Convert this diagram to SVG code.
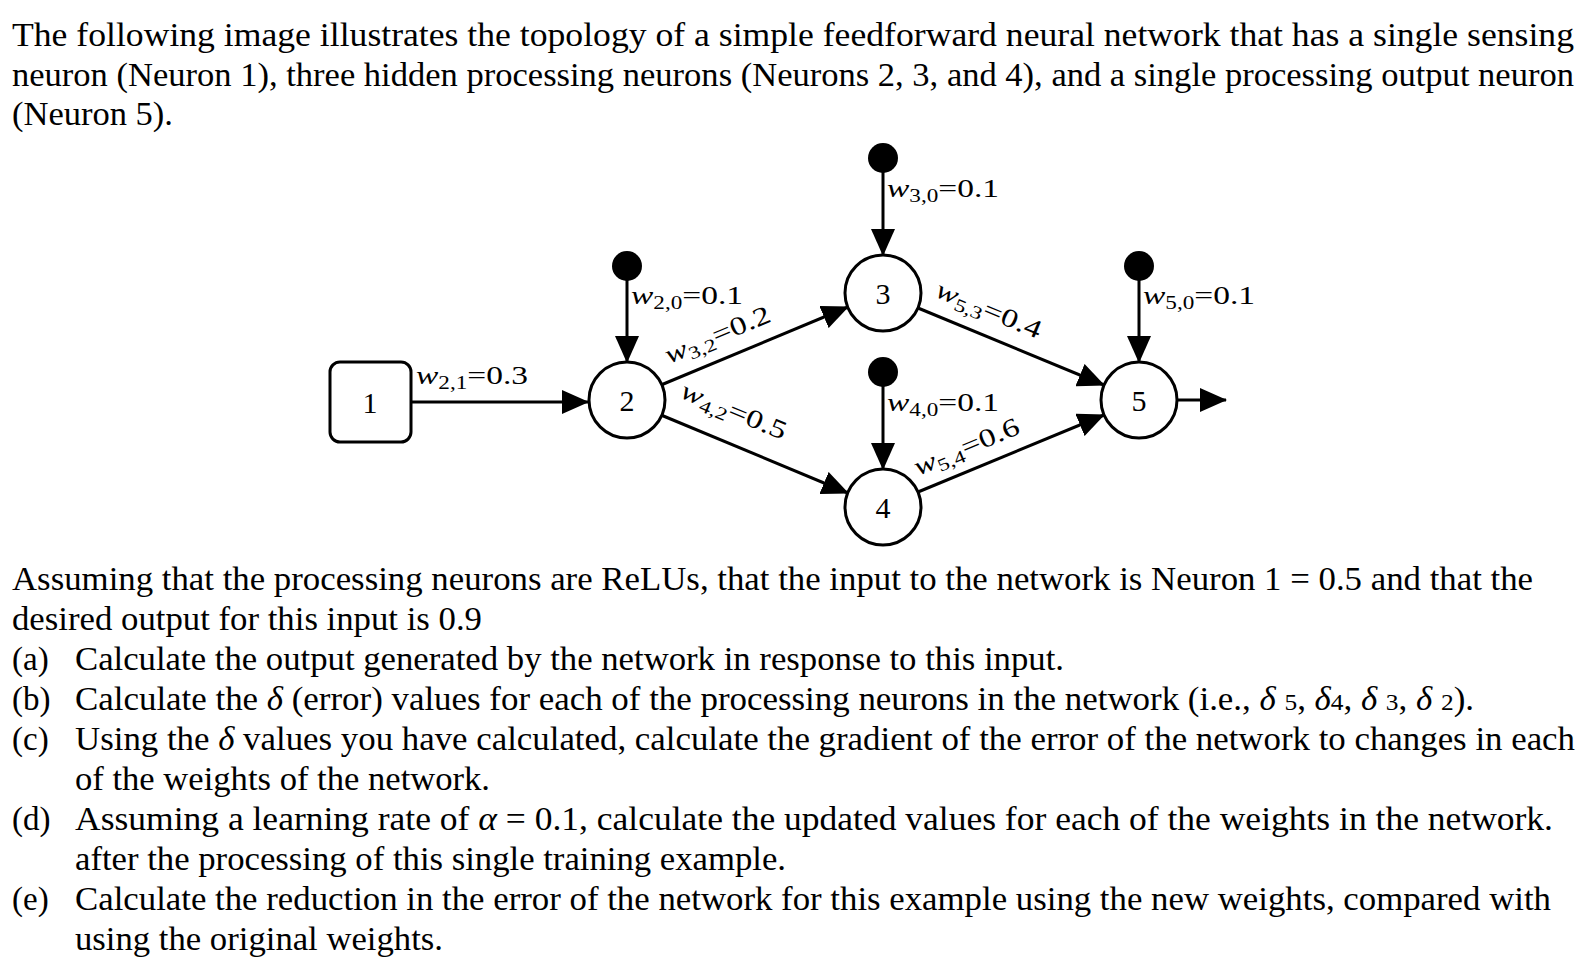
<svg xmlns="http://www.w3.org/2000/svg" width="1586" height="970" viewBox="0 0 1586 970">
<style>
.t{font-family:"Liberation Serif","Times New Roman",serif;font-size:33px;fill:#000}
.l{font-family:"Liberation Serif","Times New Roman",serif;font-size:26px;fill:#000}
.s{font-size:18px}
.n{font-family:"Liberation Serif","Times New Roman",serif;font-size:30px;text-anchor:middle;fill:#000}
.e{stroke:#000;stroke-width:3;fill:none}
.c{fill:#fff;stroke:#000;stroke-width:3}
</style>
<defs>
<marker id="a" markerUnits="userSpaceOnUse" markerWidth="28" markerHeight="24" refX="26" refY="12" orient="auto"><path d="M0,0 L27,12 L0,24 Z" fill="#000"/></marker>
</defs>
<rect width="1586" height="970" fill="#fff"/>
<g id="text-top" class="t">
<text x="12" y="46" textLength="1562" lengthAdjust="spacingAndGlyphs">The following image illustrates the topology of a simple feedforward neural network that has a single sensing</text>
<text x="12" y="86" textLength="1562" lengthAdjust="spacingAndGlyphs">neuron (Neuron 1), three hidden processing neurons (Neurons 2, 3, and 4), and a single processing output neuron</text>
<text x="12" y="125" textLength="161" lengthAdjust="spacingAndGlyphs">(Neuron 5).</text>
</g>
<g id="connectors">
<line class="e" x1="411" y1="402" x2="588" y2="402" marker-end="url(#a)"/>
<line class="e" x1="627" y1="266" x2="627" y2="362" marker-end="url(#a)"/>
<line class="e" x1="883" y1="158" x2="883" y2="255" marker-end="url(#a)"/>
<line class="e" x1="883" y1="372" x2="883" y2="469" marker-end="url(#a)"/>
<line class="e" x1="1139" y1="266" x2="1139" y2="362" marker-end="url(#a)"/>
<line class="e" x1="661" y1="385" x2="848" y2="307" marker-end="url(#a)"/>
<line class="e" x1="661" y1="415" x2="848" y2="493" marker-end="url(#a)"/>
<line class="e" x1="918" y1="308" x2="1104" y2="385" marker-end="url(#a)"/>
<line class="e" x1="918" y1="492" x2="1104" y2="415" marker-end="url(#a)"/>
<line class="e" x1="1177" y1="400" x2="1226" y2="400" marker-end="url(#a)"/>
</g>
<g id="bias">
<circle cx="627" cy="266" r="15"/>
<circle cx="883" cy="158" r="15"/>
<circle cx="883" cy="372" r="15"/>
<circle cx="1139" cy="266" r="15"/>
</g>
<g id="n1"><rect class="c" x="330" y="362" width="81" height="80" rx="10"/><text class="n" x="370" y="413">1</text></g>
<g id="n2"><circle class="c" cx="627" cy="400" r="38"/><text class="n" x="627" y="411">2</text></g>
<g id="n3"><circle class="c" cx="883" cy="293" r="38"/><text class="n" x="883" y="304">3</text></g>
<g id="n4"><circle class="c" cx="883" cy="507" r="38"/><text class="n" x="883" y="518">4</text></g>
<g id="n5"><circle class="c" cx="1139" cy="400" r="38"/><text class="n" x="1139" y="411">5</text></g>
<g id="labels" class="l">
<text x="416" y="384" textLength="112" lengthAdjust="spacingAndGlyphs"><tspan font-style="italic">w</tspan><tspan class="s" dy="5">2,1</tspan><tspan dy="-5">=0.3</tspan></text>
<text x="631" y="304" textLength="112" lengthAdjust="spacingAndGlyphs"><tspan font-style="italic">w</tspan><tspan class="s" dy="5">2,0</tspan><tspan dy="-5">=0.1</tspan></text>
<text x="887" y="197" textLength="112" lengthAdjust="spacingAndGlyphs"><tspan font-style="italic">w</tspan><tspan class="s" dy="5">3,0</tspan><tspan dy="-5">=0.1</tspan></text>
<text x="887" y="411" textLength="112" lengthAdjust="spacingAndGlyphs"><tspan font-style="italic">w</tspan><tspan class="s" dy="5">4,0</tspan><tspan dy="-5">=0.1</tspan></text>
<text x="1143" y="304" textLength="112" lengthAdjust="spacingAndGlyphs"><tspan font-style="italic">w</tspan><tspan class="s" dy="5">5,0</tspan><tspan dy="-5">=0.1</tspan></text>
<text transform="translate(669,364) rotate(-22.6)" textLength="112" lengthAdjust="spacingAndGlyphs"><tspan font-style="italic">w</tspan><tspan class="s" dy="5">3,2</tspan><tspan dy="-5">=0.2</tspan></text>
<text transform="translate(679,397) rotate(22.6)" textLength="112" lengthAdjust="spacingAndGlyphs"><tspan font-style="italic">w</tspan><tspan class="s" dy="5">4,2</tspan><tspan dy="-5">=0.5</tspan></text>
<text transform="translate(934,296) rotate(22.6)" textLength="112" lengthAdjust="spacingAndGlyphs"><tspan font-style="italic">w</tspan><tspan class="s" dy="5">5,3</tspan><tspan dy="-5">=0.4</tspan></text>
<text transform="translate(918,476) rotate(-22.6)" textLength="112" lengthAdjust="spacingAndGlyphs"><tspan font-style="italic">w</tspan><tspan class="s" dy="5">5,4</tspan><tspan dy="-5">=0.6</tspan></text>
</g>
<g id="text-bottom" class="t">
<text x="12" y="590" textLength="1521" lengthAdjust="spacingAndGlyphs">Assuming that the processing neurons are ReLUs, that the input to the network is Neuron 1 = 0.5 and that the</text>
<text x="12" y="630" textLength="470" lengthAdjust="spacingAndGlyphs">desired output for this input is 0.9</text>
<text x="12" y="670">(a)</text><text x="75" y="670" textLength="989" lengthAdjust="spacingAndGlyphs">Calculate the output generated by the network in response to this input.</text>
<text x="12" y="710">(b)</text><text x="75" y="710" textLength="1399" lengthAdjust="spacingAndGlyphs">Calculate the <tspan font-style="italic">δ</tspan> (error) values for each of the processing neurons in the network (i.e., <tspan font-style="italic">δ</tspan> <tspan font-size="24">5</tspan>, <tspan font-style="italic">δ</tspan><tspan font-size="24">4</tspan>, <tspan font-style="italic">δ</tspan> <tspan font-size="24">3</tspan>, <tspan font-style="italic">δ</tspan> <tspan font-size="24">2</tspan>).</text>
<text x="12" y="750">(c)</text><text x="75" y="750" textLength="1500" lengthAdjust="spacingAndGlyphs">Using the <tspan font-style="italic">δ</tspan> values you have calculated, calculate the gradient of the error of the network to changes in each</text>
<text x="75" y="790" textLength="415" lengthAdjust="spacingAndGlyphs">of the weights of the network.</text>
<text x="12" y="830">(d)</text><text x="75" y="830" textLength="1478" lengthAdjust="spacingAndGlyphs">Assuming a learning rate of   <tspan font-style="italic">α</tspan> = 0.1, calculate the updated values for each of the weights in the network.</text>
<text x="75" y="870" textLength="711" lengthAdjust="spacingAndGlyphs">after the processing of this single training example.</text>
<text x="12" y="910">(e)</text><text x="75" y="910" textLength="1476" lengthAdjust="spacingAndGlyphs">Calculate the reduction in the error of the network for this example using the new weights, compared with</text>
<text x="75" y="950" textLength="368" lengthAdjust="spacingAndGlyphs">using the original weights.</text>
</g>
</svg>
